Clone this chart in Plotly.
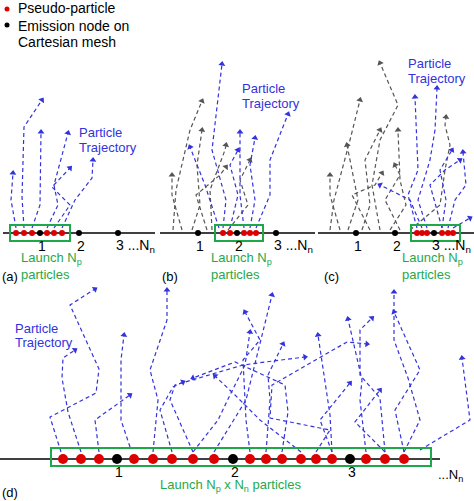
import math
import plotly.graph_objects as go

# ---- data (diagram coordinates, pixel-like units) ----
BLUE = "#3333dd"; GRAY = "#555555"; GREEN = "#1fa84a"; RED = "#dd0000"

# baselines: (x0, x1, y)
baselines = [(3, 155, 233), (160, 315, 233), (318, 474, 233), (0, 440, 459)]
# emission nodes: (x, y, label)
nodes = [(40, 233, "1"), (79, 233, "2"), (118, 233, "3 ...N<sub>n</sub>"),
         (198, 233, "1"), (237, 233, "2"), (276, 233, "3 ...N<sub>n</sub>"),
         (356, 233, "1"), (395, 233, "2"), (434, 233, "3 ...N<sub>n</sub>"),
         (117, 459, "1"), (233, 459, "2"), (350, 459, "3")]
red_x_a = [16, 24, 32, 47, 54, 62]
red_x_b = [223, 230, 244, 250, 256]
red_x_c = [417, 422, 427, 442, 448, 453]
red_x_d = [63, 81, 99, 134, 153, 172, 193, 214, 250, 266, 282, 301, 316, 332, 366, 385, 404]
boxes = [(10, 70, 225, 241), (215, 263, 225, 241), (411, 460, 225, 241), (51, 431, 448, 466)]

blue_paths = [
    # panel a
    [(16, 228), (11, 200), (13, 173)],
    [(24, 228), (22, 197), (24, 127), (42, 100)],
    [(32, 228), (40, 205), (41, 132)],
    [(47, 228), (58, 205), (54, 185), (68, 133)],
    [(54, 228), (70, 205), (52, 187), (70, 168)],
    [(62, 228), (75, 200), (92, 178), (93, 160)],
    # panel b
    [(223, 228), (226, 200), (212, 150), (222, 64)],
    [(219, 228), (205, 185), (190, 147)],
    [(230, 228), (238, 195), (230, 165), (238, 150)],
    [(244, 228), (240, 195), (240, 132)],
    [(250, 228), (255, 200), (250, 165), (255, 138)],
    [(256, 228), (270, 195), (270, 160), (288, 114)],
    # panel c
    [(417, 228), (408, 195), (418, 170), (415, 97)],
    [(422, 228), (410, 200), (380, 185)],
    [(427, 228), (418, 200), (430, 160), (435, 130), (437, 88)],
    [(442, 228), (446, 200), (440, 170), (452, 150)],
    [(448, 228), (455, 200), (466, 185), (463, 152)],
    [(453, 228), (470, 218)],
    [(442, 228), (430, 185), (445, 170), (460, 160)],
    # panel d
    [(61, 452), (50, 417), (96, 393), (99, 369), (70, 305), (95, 289)],
    [(81, 452), (68, 412), (62, 378), (63, 358), (75, 350)],
    [(99, 452), (95, 420), (130, 395)],
    [(130, 447), (121, 420), (121, 360), (124, 335)],
    [(153, 452), (158, 400), (150, 370), (167, 320), (167, 290)],
    [(172, 452), (160, 410), (173, 387), (183, 382)],
    [(193, 452), (170, 400), (175, 385), (243, 365), (265, 362), (305, 357)],
    [(214, 452), (246, 400), (272, 295)],
    [(193, 452), (218, 420), (230, 395), (245, 365), (250, 332)],
    [(250, 452), (246, 420), (243, 360), (260, 340), (245, 312)],
    [(266, 452), (270, 400), (268, 375), (283, 344)],
    [(282, 452), (288, 412), (285, 385), (235, 362), (193, 378)],
    [(301, 452), (260, 420), (235, 395), (215, 376)],
    [(316, 452), (330, 430), (270, 418), (272, 385), (347, 342), (367, 344)],
    [(332, 452), (330, 415), (318, 335)],
    [(332, 452), (320, 420), (350, 383)],
    [(366, 452), (360, 400), (362, 380), (352, 337), (348, 319)],
    [(385, 452), (380, 398), (360, 375), (360, 330), (372, 318)],
    [(404, 452), (395, 410), (420, 370), (394, 312)],
    [(385, 452), (355, 422), (380, 390)],
    [(420, 450), (470, 420), (462, 358)],
    [(404, 452), (420, 420), (408, 378), (394, 340), (394, 292)],
]
gray_paths = [
    # panel b
    [(173, 230), (176, 190), (190, 130), (202, 101)],
    [(182, 230), (172, 195), (172, 175)],
    [(192, 230), (200, 205), (197, 165), (202, 130)],
    [(207, 230), (196, 195), (220, 175), (226, 167)],
    [(212, 230), (210, 190), (225, 150), (226, 145)],
    [(228, 230), (248, 205), (240, 180), (250, 160)],
    # panel c
    [(330, 230), (334, 200), (350, 140), (360, 100)],
    [(340, 230), (330, 195), (330, 175)],
    [(348, 230), (358, 200), (347, 145)],
    [(362, 230), (370, 205), (365, 160), (380, 130)],
    [(370, 230), (352, 195), (375, 185), (382, 173)],
    [(380, 230), (372, 185), (380, 140), (398, 105), (380, 63)],
    [(390, 230), (406, 205), (400, 180), (398, 130)],
    [(400, 230), (385, 200), (400, 175), (395, 165)],
    [(410, 230), (440, 205), (445, 170), (450, 145), (445, 125), (446, 117)],
]

texts = [
    # (x, y, text, color, size)
    (16, 8, "Pseudo-particle", "black", 14),
    (16, 26, "Emission node on", "black", 14),
    (16, 42, "Cartesian mesh", "black", 14),
    (77, 132, "Particle", BLUE, 13), (77, 147, "Trajectory", BLUE, 13),
    (240, 88, "Particle", BLUE, 13), (240, 103, "Trajectory", BLUE, 13),
    (406, 63, "Particle", BLUE, 13), (406, 78, "Trajectory", BLUE, 13),
    (13, 328, "Particle", BLUE, 13), (13, 342, "Trajectory", BLUE, 13),
    (19, 258, "Launch N<sub>p</sub>", GREEN, 13), (19, 274, "particles", GREEN, 13),
    (209, 258, "Launch N<sub>p</sub>", GREEN, 13), (209, 274, "particles", GREEN, 13),
    (400, 258, "Launch N<sub>p</sub>", GREEN, 13), (400, 274, "particles", GREEN, 13),
    (158, 485, "Launch N<sub>p</sub> x N<sub>n</sub> particles", GREEN, 13),
    (0, 276, "(a)", "black", 13), (160, 276, "(b)", "black", 13), (322, 276, "(c)", "black", 13),
    (0, 492, "(d)", "black", 13), (436, 475, "...N<sub>n</sub>", "black", 13),
]

fig = go.Figure()

def add_path(pts, color):
    xs = [p[0] for p in pts]; ys = [p[1] for p in pts]
    fig.add_trace(go.Scatter(x=xs, y=ys, mode="lines",
                             line=dict(color=color, width=1.2, dash="4px,3px"),
                             hoverinfo="skip"))
    (x1, y1), (x2, y2) = pts[-2], pts[-1]
    ang = math.degrees(math.atan2(x2 - x1, -(y2 - y1)))
    fig.add_trace(go.Scatter(x=[x2], y=[y2], mode="markers",
                             marker=dict(symbol="triangle-up", size=6, angle=ang, color=color),
                             hoverinfo="skip"))

for p in gray_paths:
    add_path(p, GRAY)
for p in blue_paths:
    add_path(p, BLUE)

for x0, x1, y in baselines:
    fig.add_trace(go.Scatter(x=[x0, x1], y=[y, y], mode="lines",
                             line=dict(color="black", width=1.3), hoverinfo="skip"))
for x0, x1, y0, y1 in boxes:
    fig.add_shape(type="rect", x0=x0, x1=x1, y0=y0, y1=y1,
                  line=dict(color=GREEN, width=2))

reds = [(x, 233) for x in red_x_a + red_x_b + red_x_c]
fig.add_trace(go.Scatter(x=[r[0] for r in reds], y=[r[1] for r in reds], mode="markers",
                         marker=dict(color=RED, size=6), hoverinfo="skip"))
fig.add_trace(go.Scatter(x=red_x_d, y=[459] * len(red_x_d), mode="markers",
                         marker=dict(color=RED, size=10), hoverinfo="skip"))
small = [n for n in nodes if n[1] == 233]
big = [n for n in nodes if n[1] == 459]
fig.add_trace(go.Scatter(x=[n[0] for n in small], y=[n[1] for n in small], mode="markers",
                         marker=dict(color="black", size=6), hoverinfo="skip"))
fig.add_trace(go.Scatter(x=[n[0] for n in big], y=[n[1] for n in big], mode="markers",
                         marker=dict(color="black", size=10), hoverinfo="skip"))
for x, y, lab in nodes:
    fig.add_annotation(x=x - 4, y=y + 13, text=lab, showarrow=False, xanchor="left",
                       font=dict(size=14, color="black"))

# legend markers
fig.add_trace(go.Scatter(x=[7], y=[9], mode="markers", marker=dict(color=RED, size=5)))
fig.add_trace(go.Scatter(x=[7], y=[25], mode="markers", marker=dict(color="black", size=5)))

for x, y, t, c, s in texts:
    fig.add_annotation(x=x, y=y, text=t, showarrow=False, xanchor="left",
                       font=dict(size=s, color=c))

fig.update_layout(width=474, height=501, margin=dict(l=0, r=0, t=0, b=0),
                  plot_bgcolor="white", paper_bgcolor="white", showlegend=False,
                  font=dict(family="Liberation Sans, Arial, sans-serif"),
                  xaxis=dict(range=[0, 474], visible=False),
                  yaxis=dict(range=[501, 0], visible=False))
fig.write_html("out.html", config={"displayModeBar": False},
               post_script="document.body.style.margin='0';document.body.style.overflow='hidden';")
